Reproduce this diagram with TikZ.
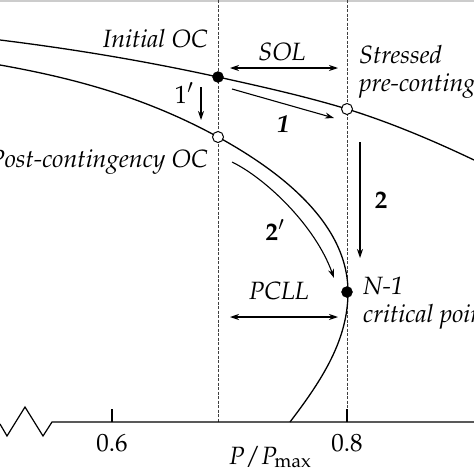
\documentclass[tikz,border=0pt]{standalone}
\usepackage[T1]{fontenc}
\usepackage{mathpazo}
\usetikzlibrary{arrows.meta}
\begin{document}
\begin{tikzpicture}[x=1pt,y=-1pt,
  curve/.style={line width=1.3pt,black},
  dashline/.style={line width=0.9pt,color=black!75,dash pattern=on 3pt off 1.5pt},
  arr/.style={line width=1.1pt,-{Stealth[length=9pt,width=6pt]}},
  darr/.style={line width=1.1pt,{Stealth[length=9pt,width=6pt]}-{Stealth[length=9pt,width=6pt]}},
  lbl/.style={inner sep=0pt,font=\fontsize{25}{28}\selectfont\itshape},
  num/.style={inner sep=0pt,font=\fontsize{25}{28}\selectfont},
  fdot/.style={circle,fill=black,draw=black,inner sep=0pt,minimum size=11pt},
  odot/.style={circle,fill=white,draw=black,line width=1pt,inner sep=0pt,minimum size=11pt}]
\useasboundingbox (0,0) rectangle (474,474);
\clip (0,0) rectangle (474,474);
% top border artifact
\draw[line width=2pt,color=black!20] (0,1) -- (474,1);
% dashed verticals
\coordinate (d1t) at (218,0); \coordinate (d1b) at (218,422);
\coordinate (d2t) at (347,0); \coordinate (d2b) at (347,422);
\draw[dashline] (d1t) -- (d1b);
\draw[dashline] (d2t) -- (d2b);
% axis with break
\coordinate (z0) at (0,424); \coordinate (z1) at (7,436); \coordinate (z2) at (25,407);
\coordinate (z3) at (43,436); \coordinate (z4) at (52,422); \coordinate (ae) at (474,422);
\draw[line width=1.2pt] (z0) -- (z1) -- (z2) -- (z3) -- (z4) -- (ae);
\coordinate (t6) at (112,409); \coordinate (t6b) at (112,422);
\coordinate (t8) at (347,409); \coordinate (t8b) at (347,422);
\draw[line width=1.2pt] (t6) -- (t6b);
\draw[line width=1.2pt] (t8) -- (t8b);
\node[num,anchor=base] (n06) at (112,451) {0.6};
\node[num,anchor=base] (n08) at (347,451) {0.8};
\node[num,anchor=base] (xl) at (270,464) {$P/P_{\mathrm{max}}$};
% upper curve
\draw[curve] (0,40) .. controls (73,49) and (145,61) .. (218,77)
  .. controls (261,86.5) and (304,96) .. (347,109)
  .. controls (389,122) and (432,140) .. (474,160);
% lower curve
\draw[curve] (0,65) .. controls (73,78) and (145,97) .. (218,137)
  .. controls (278,170) and (348,222) .. (348,292)
  .. controls (348,340) and (322,380) .. (290,422);
% points
\node[fdot] (init) at (218,77) {};
\node[odot] (stress) at (347,109) {};
\node[odot] (post) at (218,137) {};
\node[fdot] (crit) at (347,292) {};
% arrows
\coordinate (s1) at (230,68); \coordinate (s2) at (338,68);
\draw[darr] (s1) -- (s2);
\coordinate (p1) at (230,317); \coordinate (p2) at (338,317);
\draw[darr] (p1) -- (p2);
\coordinate (a1s) at (232,89); \coordinate (a1e) at (334,118);
\draw[arr] (a1s) -- (a1e);
\coordinate (a1ps) at (201,87); \coordinate (a1pe) at (201,120);
\draw[arr] (a1ps) -- (a1pe);
\coordinate (a2s) at (360,142); \coordinate (a2e) at (360,258);
\draw[arr] (a2s) -- (a2e);
\coordinate (a2ps) at (232,162); \coordinate (a2pe) at (334,278);
\draw[arr] (a2ps) .. controls (265,178) and (315,225) .. (a2pe);
% labels
\node[lbl,anchor=base east] (tinit) at (208,47) {Initial OC};
\node[lbl,anchor=base east] (tpost) at (208,167) {Post-contingency OC};
\node[lbl,anchor=base] (tsol) at (282,60) {SOL};
\node[lbl,anchor=base west] (tstr) at (359,63) {Stressed};
\node[lbl,anchor=base west] (tpre) at (359,91) {pre-contingency OC};
\node[lbl,anchor=base west] (tn1) at (363,294) {N-1};
\node[lbl,anchor=base west] (tcrit) at (363,322) {critical point};
\node[lbl,anchor=base] (tpcll) at (279,299) {PCLL};
\node[num,anchor=base] (l1p) at (184,103) {1$'$};
\node[num,anchor=base] (l1) at (283,132) {\bfseries\itshape 1};
\node[num,anchor=base] (l2) at (381,208) {\bfseries 2};
\node[num,anchor=base] (l2p) at (275,240) {\bfseries 2$'$};
\end{tikzpicture}
\end{document}
